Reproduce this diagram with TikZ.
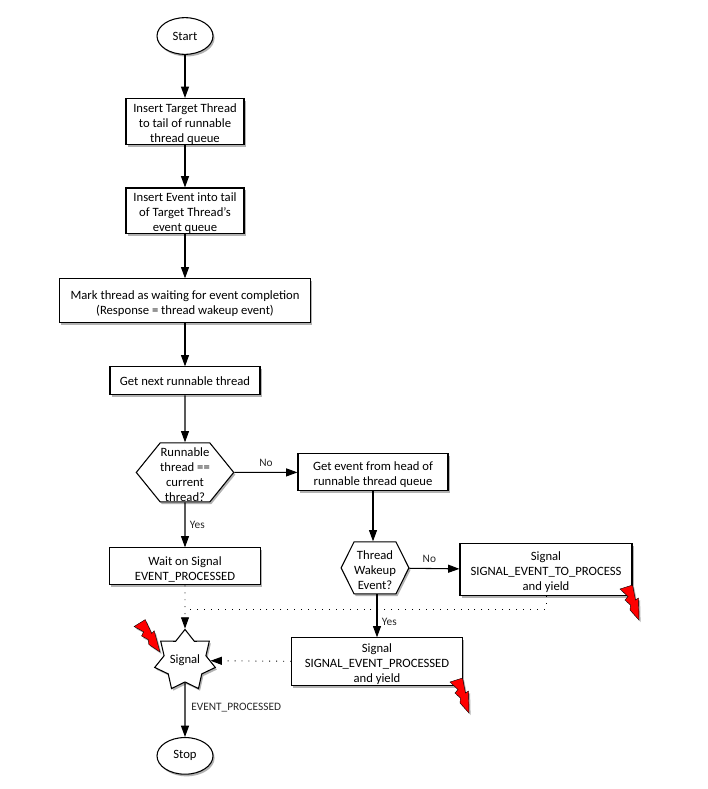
\documentclass[tikz,border=0pt]{standalone}
\usepackage{fontspec}
\setmainfont{Carlito}
\usetikzlibrary{arrows.meta,shapes.geometric,shapes.symbols,shadows}

\newcommand{\lead}{\rule{0pt}{10.5pt}}

\begin{document}
\begin{tikzpicture}[x=0.75pt, y=-0.75pt, line width=0.8pt, >={Triangle[length=8.5pt,width=6pt]},
    font=\fontsize{9.5}{11.2}\selectfont,
    soft/.style = {drop shadow={shadow xshift=1.2pt, shadow yshift=-1.6pt, opacity=0.3, fill=black}},
    main/.style = {draw, fill=white, soft, align=center, inner sep=0pt},
    term/.style = {main, ellipse, minimum width=42pt, minimum height=27.5pt},
    hexa/.style = {main, signal, signal to=east and west},
    burst/.style = {main, star, star points=7, star point ratio=1.45, minimum size=43pt},
    dots/.style = {draw=black, line width=0.7pt, dash pattern=on 0.7pt off 4.5pt},
    tag/.style = {font=\fontsize{8.5}{10}\selectfont, text=black!85},
    bolt/.pic = {\draw[fill=red, line width=0.3pt, soft] (-19,-31) -- (-6.5,-35) -- (-3.5,-20) -- (-0.5,-22) -- (0,0) -- (-9,-10) -- (-8.5,-15) -- (-14,-20) -- (-11,-23.5) -- cycle;}]
\useasboundingbox (0,0) rectangle (707,789);

\node[term] (start) at (185,36) {Start};
\node[main, minimum width=88.5pt, minimum height=33.75pt] (target) [below of=start, node distance=64.1pt] {\lead Insert Target Thread\\to tail of runnable\\thread queue};
\node[main, minimum width=88.5pt, minimum height=33pt] (insert) [below of=target, node distance=67.1pt] {\lead Insert Event into tail\\of Target Thread’s\\event queue};
\node[main, minimum width=188.25pt, minimum height=33pt] (mark) [below of=insert, node distance=67.5pt] {\lead Mark thread as waiting for event completion\\(Response = thread wakeup event)};
\node[main, minimum width=112.5pt, minimum height=21pt] (next) [below of=mark, node distance=60pt] {Get next runnable thread};
\node[hexa, signal pointer angle=102, minimum width=72pt, minimum height=44.25pt] (same) [below of=next, node distance=68.6pt] {\lead Runnable\\thread ==\\current\\thread?};
\node[main, minimum width=113pt, minimum height=27.75pt] (wait) [below of=same, node distance=70.5pt] {\lead Wait on Signal\\EVENT\_PROCESSED};
\node[burst] (sig) [below of=wait, node distance=70.6pt] {Signal};
\node[term] (stop) [below of=sig, node distance=71.5pt] {Stop};

\node[main, minimum width=112.5pt, minimum height=27.75pt] (event) [right of=same, node distance=141pt] {\lead Get event from head of\\runnable thread queue};
\node[hexa, signal pointer angle=127, minimum width=45.75pt, minimum height=39pt] (wake) [below of=event, node distance=71.6pt, xshift=1.5pt] {\lead Thread\\Wakeup\\Event?};
\node[main, minimum width=129pt, minimum height=39pt] (toproc) [right of=wake, node distance=128.25pt, yshift=-1.5pt] {\lead Signal\\SIGNAL\_EVENT\_TO\_PROCESS\\and yield};
\node[main, minimum width=128.25pt, minimum height=36pt] (proc) [below of=wake, node distance=70.5pt, xshift=1.5pt] {\lead Signal\\SIGNAL\_EVENT\_PROCESSED\\and yield};

\coordinate (bend) at (toproc.south |- 0,609);
\coordinate (merge) at (wait.south |- 0,609);

\draw[->] (start) -- (target);
\draw[->] (target) -- (insert);
\draw[->] (insert) -- (mark);
\draw[->] (mark) -- (next);
\draw[->] (next) -- (same);
\draw[->] (same) -- node[tag, midway, right] {Yes} (wait);
\draw[->] (same) -- node[tag, midway, above, yshift=1pt] {No} (event);
\draw[->] (event.south) -- (event.south |- wake.north);
\draw[->] (wake) -- node[tag, pos=0.4, above, yshift=1pt] {No} (toproc);
\draw[->] (proc.north |- wake.south) -- node[tag, midway, right, yshift=-4.5pt] {Yes} (proc.north);
\draw[->] (sig) -- node[tag, midway, right, xshift=1pt, yshift=1.5pt] {EVENT\_PROCESSED} (stop);

\draw[dots, ->] (wait) -- (sig);
\draw[dots] (toproc.south) -- (bend) -- (merge);
\draw[dots, ->] (proc) -- (sig);

\pic (boltsig) at (160,652) [rotate=14] {bolt};
\pic (boltproc) at (469,713) {bolt};
\pic (bolttoproc) at (639,620) {bolt};

\end{tikzpicture}
\end{document}
